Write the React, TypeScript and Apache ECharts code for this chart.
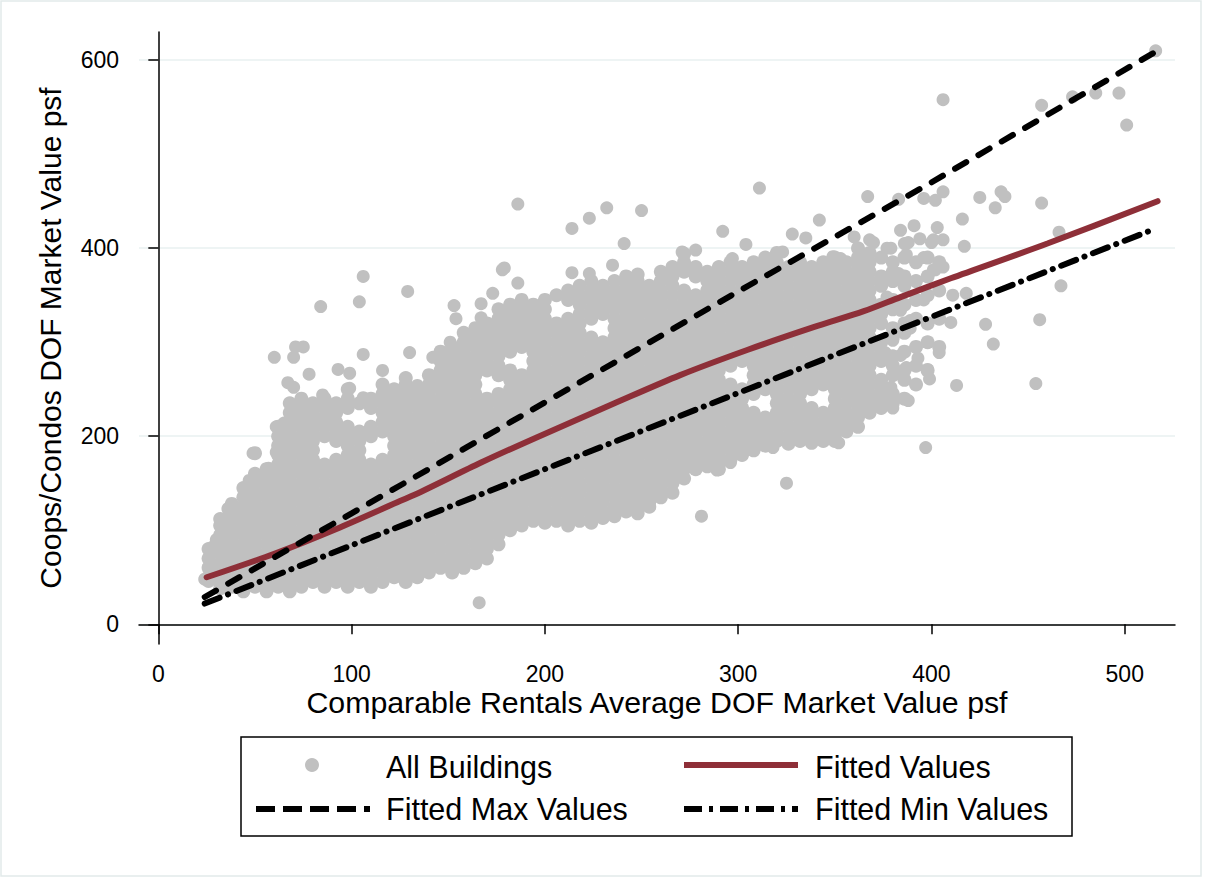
import React, { useEffect, useRef } from "react";
import * as echarts from "echarts";

// ---- tick labels ----
const xTicks = [0, 100, 200, 300, 400, 500];
const yTicks = [0, 200, 400, 600];

// ---- scatter: each row is [x, y1, y2, ...] (a column of buildings sharing about the same x) ----
const buildingsWest: number[][] = [
  [26, 46, 50, 60, 70, 80],
  [32, 38, 45, 55, 65, 75, 85, 95, 105, 112],
  [38, 40, 50, 60, 70, 80, 90, 100, 110, 120, 128],
  [44, 35, 45, 55, 65, 75, 85, 95, 105, 115, 125, 135, 145],
  [50, 40, 50, 60, 70, 80, 90, 100, 110, 120, 130, 140, 150, 160, 182],
  [56, 35, 45, 55, 65, 75, 85, 95, 105, 115, 125, 135, 145, 155, 165],
  [62, 40, 50, 60, 70, 80, 90, 100, 110, 120, 130, 140, 150, 160, 170, 180, 190, 200, 210],
  [68, 35, 45, 55, 65, 75, 85, 95, 105, 115, 125, 135, 145, 155, 165, 175, 185, 195, 205, 215, 225, 235],
  [74, 40, 50, 60, 70, 80, 90, 100, 110, 120, 130, 140, 150, 160, 170, 180, 190, 200, 210, 220, 230, 240],
  [80, 45, 55, 65, 75, 85, 95, 105, 115, 125, 135, 145, 155, 165, 175, 185, 195, 205, 215, 225, 235],
  [86, 40, 50, 60, 70, 80, 90, 100, 110, 120, 130, 140, 150, 160, 170, 200, 210, 220, 230, 240],
  [92, 45, 55, 65, 75, 85, 95, 105, 115, 125, 135, 145, 155, 165, 175, 195, 205, 215, 225, 235],
  [98, 40, 50, 60, 70, 80, 90, 100, 110, 120, 130, 140, 150, 160, 170, 180, 190, 200, 210, 230, 240, 250],
];

const buildingsMid: number[][] = [
  [104, 45, 55, 65, 75, 85, 95, 105, 115, 125, 135, 145, 155, 165, 175, 185, 195, 205, 235],
  [110, 40, 50, 60, 70, 80, 90, 100, 110, 120, 130, 140, 150, 160, 170, 200, 210, 230, 240],
  [116, 45, 55, 65, 75, 85, 95, 105, 115, 125, 135, 145, 155, 165, 175, 205, 215, 225, 235, 245, 255],
  [122, 50, 60, 70, 80, 90, 100, 110, 120, 130, 140, 150, 160, 170, 180, 190, 200, 210, 220, 230, 240, 250],
  [128, 45, 55, 65, 75, 85, 95, 105, 115, 125, 135, 145, 155, 165, 175, 185, 195, 205, 215, 225, 235, 245, 255, 262],
  [134, 50, 60, 70, 80, 90, 100, 110, 120, 130, 140, 150, 160, 170, 180, 190, 200, 210, 220, 230, 240, 250],
  [140, 55, 65, 75, 85, 95, 105, 115, 125, 135, 145, 155, 165, 175, 185, 195, 205, 215, 225, 235, 245, 255, 265],
  [146, 60, 70, 80, 90, 100, 110, 120, 130, 140, 150, 160, 170, 180, 190, 200, 210, 220, 230, 240, 250, 260, 270, 280, 290],
  [152, 55, 65, 75, 85, 95, 105, 115, 125, 135, 145, 155, 165, 175, 185, 195, 205, 215, 225, 235, 245, 255, 265, 275, 285, 295],
  [158, 60, 70, 80, 90, 100, 110, 120, 130, 140, 150, 160, 170, 180, 190, 200, 210, 220, 230, 240, 250, 260, 270, 280, 290, 300, 310],
  [164, 65, 75, 85, 95, 105, 115, 125, 135, 145, 155, 165, 175, 185, 195, 205, 215, 225, 235, 245, 255, 265, 275, 285, 295, 305, 315],
  [170, 70, 80, 90, 100, 110, 120, 130, 140, 150, 160, 170, 180, 190, 200, 210, 220, 230, 240, 270, 280, 290, 300, 310, 320],
  [176, 85, 95, 105, 115, 125, 135, 145, 155, 165, 175, 185, 195, 205, 215, 225, 235, 245, 265, 275, 285, 295, 305, 315, 325, 335],
  [182, 100, 110, 120, 130, 140, 150, 160, 170, 180, 190, 200, 210, 220, 230, 240, 250, 260, 270, 290, 300, 310, 320, 330, 340],
  [188, 105, 115, 125, 135, 145, 155, 165, 175, 185, 195, 205, 215, 225, 235, 245, 255, 265, 295, 305, 315, 325, 335, 345],
  [194, 110, 120, 130, 140, 150, 160, 170, 180, 190, 200, 210, 220, 230, 240, 250, 260, 270, 280, 290, 300, 310, 320, 330, 340],
  [200, 108, 115, 125, 135, 145, 155, 165, 175, 185, 195, 205, 215, 225, 235, 245, 255, 265, 275, 285, 295, 305, 315, 325, 335, 345],
];

const buildingsEast: number[][] = [
  [206, 110, 120, 130, 140, 150, 160, 170, 180, 190, 200, 210, 220, 230, 240, 250, 260, 270, 280, 290, 300, 310, 320, 350],
  [212, 105, 115, 125, 135, 145, 155, 165, 175, 185, 195, 205, 215, 225, 235, 245, 255, 265, 275, 285, 295, 305, 315, 325, 345, 355],
  [218, 110, 120, 130, 140, 150, 160, 170, 180, 190, 200, 210, 220, 230, 240, 250, 260, 270, 280, 290, 300, 310, 320, 330, 340, 350, 360],
  [224, 108, 115, 125, 135, 145, 155, 165, 175, 185, 195, 205, 215, 225, 235, 245, 255, 265, 275, 285, 295, 305, 325, 335, 345, 355, 365],
  [230, 113, 120, 130, 140, 150, 160, 170, 180, 190, 200, 210, 220, 230, 240, 250, 260, 270, 280, 290, 300, 330, 340, 350, 360],
  [236, 115, 125, 135, 145, 155, 165, 175, 185, 195, 205, 215, 225, 235, 245, 255, 265, 275, 285, 295, 305, 315, 325, 335, 345, 355, 365],
  [242, 120, 130, 140, 150, 160, 170, 180, 190, 200, 210, 220, 230, 240, 250, 260, 270, 280, 290, 300, 310, 320, 330, 340, 350, 360, 370],
  [248, 118, 125, 135, 145, 155, 165, 175, 185, 195, 205, 215, 225, 235, 245, 255, 265, 275, 285, 295, 305, 315, 325, 335, 345, 355, 365, 372],
  [254, 125, 130, 140, 150, 160, 170, 180, 190, 200, 210, 220, 230, 240, 250, 260, 270, 280, 290, 300, 310, 320, 330, 340, 350, 360],
  [260, 135, 145, 155, 165, 175, 185, 195, 205, 215, 225, 235, 245, 255, 265, 275, 285, 295, 305, 315, 325, 335, 345, 355, 365, 375],
  [266, 140, 150, 160, 170, 180, 190, 200, 210, 220, 230, 240, 250, 260, 270, 280, 290, 300, 310, 320, 330, 340, 350, 360, 370, 380],
  [272, 155, 165, 175, 185, 195, 205, 215, 225, 235, 245, 255, 265, 275, 285, 295, 305, 315, 325, 335, 345, 355, 375, 385, 394],
  [278, 165, 170, 180, 190, 200, 210, 220, 230, 240, 250, 260, 270, 280, 290, 300, 310, 320, 330, 340, 350, 370, 380],
  [284, 168, 175, 185, 195, 205, 215, 225, 235, 245, 255, 265, 275, 285, 295, 305, 315, 325, 335, 345, 355, 365, 375],
  [290, 165, 170, 180, 190, 200, 210, 220, 230, 240, 250, 260, 270, 280, 290, 300, 310, 320, 330, 340, 350, 360, 370, 380],
  [296, 175, 185, 195, 205, 215, 225, 235, 245, 255, 275, 285, 295, 305, 315, 325, 335, 345, 355, 365, 375, 385],
  [302, 180, 190, 200, 210, 220, 230, 240, 250, 280, 290, 300, 310, 320, 330, 340, 350, 360, 370, 380],
];

const buildingsFar: number[][] = [
  [308, 185, 195, 205, 215, 225, 245, 255, 265, 275, 285, 295, 305, 315, 325, 335, 345, 355, 365, 375, 385],
  [314, 190, 200, 210, 220, 250, 260, 270, 280, 290, 300, 310, 320, 330, 340, 350, 360, 370, 380, 390],
  [320, 195, 205, 215, 225, 235, 245, 255, 265, 275, 285, 295, 305, 315, 325, 335, 345, 355, 365, 375, 385, 395],
  [326, 192, 200, 210, 220, 230, 240, 250, 260, 270, 280, 290, 300, 310, 320, 330, 340, 350, 360, 370, 380],
  [332, 195, 205, 215, 225, 235, 245, 255, 265, 275, 285, 295, 305, 315, 325, 335, 345, 355, 365, 375, 385],
  [338, 193, 200, 210, 220, 230, 250, 260, 270, 280, 290, 300, 310, 320, 330, 340, 350, 360, 370, 380],
  [344, 195, 205, 215, 225, 255, 265, 275, 285, 295, 305, 315, 325, 335, 345, 355, 365, 375, 385],
  [350, 195, 200, 210, 220, 230, 240, 250, 260, 270, 280, 290, 300, 310, 320, 330, 340, 350, 360, 370, 380, 390],
  [356, 205, 215, 225, 235, 245, 255, 265, 275, 285, 295, 305, 315, 325, 335, 345, 355, 365, 375, 385],
  [362, 210, 220, 230, 240, 250, 260, 270, 280, 290, 300, 310, 320, 330, 340, 350, 360, 370, 380, 390, 400],
  [368, 225, 235, 245, 255, 265, 275, 285, 295, 305, 315, 325, 335, 345, 355, 365, 375, 385, 395],
  [374, 230, 240, 250, 260, 280, 290, 300, 320, 330, 340, 360, 370, 390],
  [380, 235, 245, 265, 275, 285, 305, 315, 335, 345, 365, 375, 385],
  [386, 240, 260, 270, 290, 310, 320, 340, 360, 370, 390],
  [392, 255, 275, 295, 325, 345, 365, 385],
  [398, 270, 300, 320, 350, 370, 390],
  [404, 295, 325, 355, 385],
];

// ---- scattered buildings read individually: [x, y] ----
const buildingsScattered: number[][] = [
  [24, 48], [27, 54], [28, 82], [30, 90], [34, 112], [36, 123], [47, 135], [47, 153], [49, 182], [52, 153],
  [57, 166], [61, 183], [61, 210], [65, 214], [69, 226], [70, 252], [77, 228], [85, 244], [90, 231], [99, 251],
  [106, 241], [124, 246], [134, 254], [149, 249], [158, 256], [60, 284], [70, 284], [71, 295], [75, 295], [84, 338],
  [78, 266], [67, 257], [93, 271], [99, 267], [106, 370], [104, 343], [106, 287], [116, 270], [129, 354], [130, 289],
  [142, 284], [153, 339], [154, 325], [167, 341], [167, 326], [173, 352], [174, 315], [178, 377], [186, 363], [151, 300],
  [184, 310], [166, 23], [186, 447], [214, 421], [223, 432], [232, 443], [250, 440], [241, 405], [292, 418], [304, 404],
  [311, 464], [179, 379], [214, 374], [223, 373], [235, 382], [271, 396], [278, 398], [297, 389], [323, 396], [349, 391],
  [360, 412], [368, 409], [377, 400], [386, 405], [394, 410], [401, 409], [406, 380], [281, 115], [241, 134], [325, 150],
  [397, 188], [289, 164], [296, 172], [318, 188], [352, 193], [328, 415], [342, 430], [335, 411], [367, 455], [384, 419],
  [391, 424], [396, 453], [402, 451], [406, 460], [403, 422], [406, 409], [400, 406], [388, 406], [379, 400], [416, 431],
  [417, 402], [425, 454], [436, 460], [438, 455], [433, 443], [457, 448], [466, 417], [467, 360], [456, 324], [428, 319],
  [432, 298], [454, 256], [413, 254], [406, 558], [457, 552], [473, 561], [485, 565], [497, 565], [501, 531], [516, 610],
  [383, 452], [370, 406], [353, 389], [411, 350], [418, 352], [410, 321], [398, 300], [404, 289], [393, 283], [398, 271],
  [399, 261], [388, 238], [380, 230], [387, 273], [384, 286], [376, 289], [379, 252], [373, 241], [380, 302], [389, 315],
  [401, 377], [396, 390], [387, 393], [383, 373], [387, 366], [377, 369], [402, 377], [396, 345], [384, 334], [377, 348],
  [389, 323],
];

// ---- fitted lines ----
const fittedValues: number[][] = [
  [25, 50], [60, 75], [94, 103], [125, 131], [136, 141], [167, 172], [196, 199], [236, 235],
  [270, 265], [305, 292], [339, 316], [365, 333], [384, 348], [410, 368], [460, 405], [517, 450],
];
const fittedMax: number[][] = [[24, 29], [100, 118], [200, 236], [300, 354], [400, 470], [516, 609]];
const fittedMin: number[][] = [[24, 22], [100, 84], [200, 165], [300, 246], [400, 327], [516, 421]];

const FONT = '"Liberation Sans", Arial, Helvetica, sans-serif';

function columnsToPoints(cols: number[][]): number[][] {
  const out: number[][] = [];
  for (const c of cols) {
    for (let i = 1; i < c.length; i++) out.push([c[0], c[i]]);
  }
  return out;
}

export default function App() {
  const ref = useRef<HTMLDivElement>(null);

  useEffect(() => {
    if (!ref.current) return;
    const chart = echarts.init(ref.current, undefined, { renderer: "svg" });

    const coreData = [
      ...columnsToPoints(buildingsWest),
      ...columnsToPoints(buildingsMid),
      ...columnsToPoints(buildingsEast),
      ...columnsToPoints(buildingsFar),
    ];

    const textStyle = (text: string, size: number, align: string) => ({
      text,
      fill: "#000",
      font: `${size}px ${FONT}`,
      fontSize: size,
      fontFamily: FONT,
      align,
      verticalAlign: "middle",
      textAlign: align,
      textVerticalAlign: "middle",
    });

    chart.setOption({
      animation: false,
      backgroundColor: "#ffffff",
      grid: { left: 139, right: 32, top: 32, bottom: 234, containLabel: false },
      xAxis: {
        type: "value",
        min: -10,
        max: 526,
        axisLine: { show: true, lineStyle: { color: "#000", width: 1.5 } },
        axisTick: { show: true, customValues: xTicks, length: 10, lineStyle: { color: "#000", width: 1.5 } },
        axisLabel: { customValues: xTicks, fontSize: 23, color: "#000", margin: 18, fontFamily: FONT },
        splitLine: { show: false },
      },
      yAxis: {
        type: "value",
        min: -21,
        max: 630,
        axisLine: { show: true, lineStyle: { color: "#000", width: 1.5 } },
        axisTick: { show: true, customValues: yTicks, length: 10, lineStyle: { color: "#000", width: 1.5 } },
        axisLabel: { customValues: yTicks, fontSize: 23, color: "#000", margin: 20, fontFamily: FONT },
        splitLine: { show: true, lineStyle: { color: "#E8F0F1", width: 1.5 } },
      },
      series: [
        {
          name: "All Buildings",
          type: "scatter",
          data: coreData,
          symbol: "circle",
          symbolSize: 14,
          itemStyle: { color: "#C0C0C0", opacity: 1 },
          large: false,
          progressive: 0,
          silent: true,
          z: 2,
        },
        {
          name: "All Buildings",
          type: "scatter",
          data: buildingsScattered,
          symbol: "circle",
          symbolSize: 13,
          itemStyle: { color: "#C0C0C0", opacity: 1 },
          large: false,
          progressive: 0,
          silent: true,
          z: 2,
        },
        {
          name: "Fitted Values",
          type: "line",
          data: fittedValues,
          showSymbol: false,
          smooth: 0.3,
          lineStyle: { color: "#8E2F38", width: 6, cap: "round" },
          silent: true,
          z: 3,
        },
        {
          name: "Fitted Max Values",
          type: "line",
          data: fittedMax,
          showSymbol: false,
          lineStyle: { color: "#000", width: 6, type: [13, 14], cap: "round" },
          silent: true,
          z: 4,
        },
        {
          name: "Fitted Min Values",
          type: "line",
          data: fittedMin,
          showSymbol: false,
          lineStyle: { color: "#000", width: 6, type: [16, 9, 0.1, 9], cap: "round" },
          silent: true,
          z: 4,
        },
      ],
      graphic: [
        {
          type: "rect",
          shape: { x: 1, y: 1, width: 1200, height: 875 },
          style: { fill: "none", stroke: "#E2EAEA", lineWidth: 1.5 },
          silent: true,
        },
        {
          type: "text",
          x: 657,
          y: 702,
          style: textStyle("Comparable Rentals Average DOF Market Value psf", 30.3, "center"),
          silent: true,
        },
        {
          type: "text",
          x: 50,
          y: 338,
          rotation: Math.PI / 2,
          style: textStyle("Coops/Condos DOF Market Value psf", 30, "center"),
          silent: true,
        },
        {
          type: "rect",
          shape: { x: 241, y: 737, width: 831, height: 99 },
          style: { fill: "#fff", stroke: "#000", lineWidth: 1.5 },
          silent: true,
        },
        {
          type: "circle",
          shape: { cx: 312, cy: 765, r: 7 },
          style: { fill: "#C0C0C0" },
          silent: true,
        },
        { type: "text", x: 386, y: 767, style: textStyle("All Buildings", 30.5, "left"), silent: true },
        {
          type: "line",
          shape: { x1: 684, y1: 765, x2: 798, y2: 765 },
          style: { stroke: "#8E2F38", lineWidth: 6 },
          silent: true,
        },
        { type: "text", x: 815, y: 767, style: textStyle("Fitted Values", 30.5, "left"), silent: true },
        {
          type: "line",
          shape: { x1: 256, y1: 809, x2: 370, y2: 809 },
          style: { stroke: "#000", lineWidth: 6, lineDash: [19, 8] },
          silent: true,
        },
        { type: "text", x: 386, y: 809, style: textStyle("Fitted Max Values", 30.5, "left"), silent: true },
        {
          type: "line",
          shape: { x1: 684, y1: 809, x2: 798, y2: 809 },
          style: { stroke: "#000", lineWidth: 6, lineDash: [18, 7, 4, 7] },
          silent: true,
        },
        { type: "text", x: 815, y: 809, style: textStyle("Fitted Min Values", 30.5, "left"), silent: true },
      ],
    });

    return () => {
      chart.dispose();
    };
  }, []);

  return (
    <div
      ref={ref}
      style={{ position: "absolute", left: 0, top: 0, width: 1207, height: 878, background: "#fff" }}
    />
  );
}
